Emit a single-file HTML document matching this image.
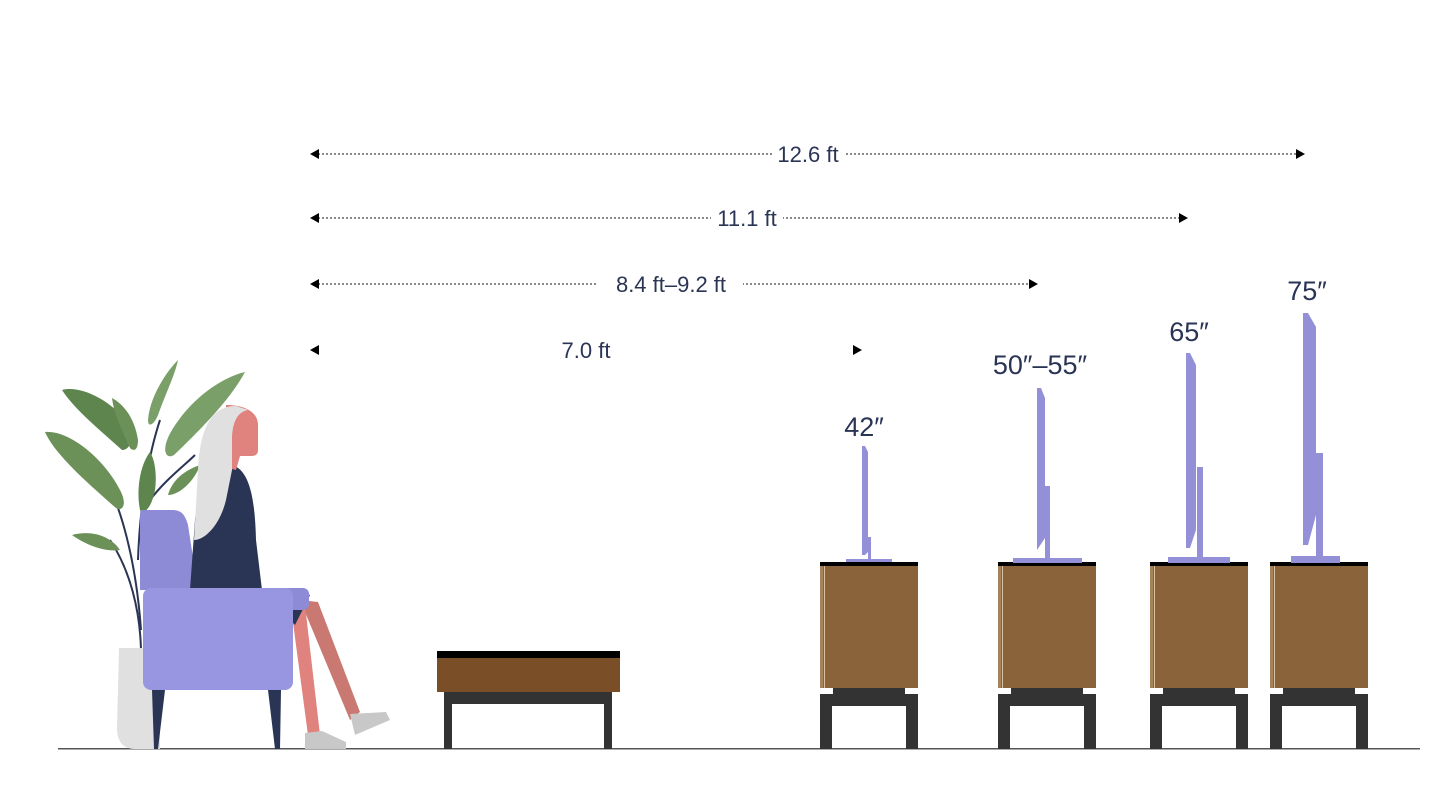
<!DOCTYPE html>
<html><head><meta charset="utf-8"><style>
html,body{margin:0;padding:0;background:#fff;width:1440px;height:810px;overflow:hidden}
svg{display:block}
text{font-family:"Liberation Sans",sans-serif;fill:#2a3454}
</style></head><body>
<svg width="1440" height="810" viewBox="0 0 1440 810" xmlns="http://www.w3.org/2000/svg">
<defs>
<g id="cab">
  <rect x="0" y="562" width="98" height="4" fill="#000"/>
  <rect x="0" y="566" width="98" height="122" fill="#8a633a"/>
  <rect x="4" y="566" width="1" height="122" fill="#d8c2a0"/>
  <rect x="0" y="566" width="3" height="122" fill="#b0936b" opacity="0.7"/>
  <rect x="13" y="688" width="72" height="6" fill="#333"/>
  <path d="M0 694H98V749H86V706H12V749H0Z" fill="#333"/>
</g>
</defs>
<g stroke="#111" stroke-width="1" stroke-dasharray="2,2">
  <line x1="318" y1="154" x2="1296" y2="154"/>
  <line x1="318" y1="218" x2="1180" y2="218"/>
  <line x1="318" y1="284" x2="1030" y2="284"/>
</g>
<g fill="#000">
  <path d="M310 154l9-5v10z"/><path d="M1305 154l-9-5v10z"/>
  <path d="M310 218l9-5v10z"/><path d="M1188 218l-9-5v10z"/>
  <path d="M310 284l9-5v10z"/><path d="M1038 284l-9-5v10z"/>
  <path d="M310 350l9-5v10z"/><path d="M862 350l-9-5v10z"/>
</g>
<rect x="772" y="140" width="74" height="28" fill="#fff"/>
<rect x="711" y="204" width="72" height="28" fill="#fff"/>
<rect x="597" y="270" width="146" height="28" fill="#fff"/>
<g font-size="22" text-anchor="middle">
  <text x="808" y="162">12.6 ft</text>
  <text x="747" y="226">11.1 ft</text>
  <text x="671" y="292">8.4 ft–9.2 ft</text>
  <text x="586" y="358">7.0 ft</text>
</g>
<g font-size="27" text-anchor="middle">
  <text x="864" y="436">42″</text>
  <text x="1040" y="374">50″–55″</text>
  <text x="1189" y="341">65″</text>
  <text x="1307" y="300">75″</text>
</g>
<rect x="58" y="748" width="1362" height="1.5" fill="#555"/>
<use href="#cab" transform="translate(820,0)"/>
<use href="#cab" transform="translate(998,0)"/>
<use href="#cab" transform="translate(1150,0)"/>
<use href="#cab" transform="translate(1270,0)"/>
<g fill="#9490d8">
  <path d="M862 446h3l3 6v100l-3 3h-3z"/><rect x="868" y="537" width="3" height="23"/><rect x="846" y="559" width="46" height="3"/>
  <path d="M1037 388h4l4 10v140l-8 12z"/><rect x="1045" y="486" width="5" height="72"/><rect x="1013" y="558" width="69" height="5"/>
  <path d="M1186 353h4l6 12v165l-6 18h-4z"/><rect x="1197" y="467" width="6" height="90"/><rect x="1168" y="557" width="62" height="6"/>
  <path d="M1303 313h5l8 14v188l-8 30h-5z"/><rect x="1316" y="453" width="7" height="103"/><rect x="1291" y="556" width="49" height="7"/>
</g>
<rect x="437" y="651" width="183" height="7" fill="#000"/>
<rect x="437" y="658" width="183" height="34" fill="#7a4f28"/>
<path d="M444 692H612V749H604V704H452V749H444Z" fill="#333"/>
<!-- plant -->
<g fill="none" stroke="#2a3454" stroke-width="2">
  <path d="M141 650C140 610 130 570 110 540"/>
  <path d="M141 630C136 560 120 500 100 470"/>
  <path d="M138 560C140 500 150 450 160 420"/>
  <path d="M150 500C165 480 185 465 195 455"/>
</g>
<g fill="#6b9158">
  <path d="M62 390C80 385 110 400 125 420C135 440 130 450 122 450C100 430 75 410 62 390Z" fill="#5f854f"/>
  <path d="M45 432C70 430 105 460 120 490C128 505 122 512 116 508C90 485 55 455 45 432Z"/>
  <path d="M112 398C125 405 135 420 138 440C138 450 134 452 130 448C122 430 114 415 112 398Z"/>
  <path d="M178 360C168 370 150 395 148 420C148 428 154 425 158 415C165 395 175 375 178 360Z" fill="#7a9f68"/>
  <path d="M245 372C220 378 190 400 172 430C160 450 166 460 174 455C200 430 230 400 245 372Z" fill="#7a9f68"/>
  <path d="M150 452C140 465 136 490 140 510C146 515 152 505 155 490C157 475 155 460 150 452Z" fill="#5f854f"/>
  <path d="M72 535C90 530 110 535 120 550C110 552 90 548 72 535Z"/>
  <path d="M200 465C185 470 172 480 168 495C180 495 195 480 200 465Z"/>
</g>
<path d="M119 648H160V749H135C122 749 117 740 117 728Z" fill="#e0e0e0"/>
<path d="M142 510H172C182 510 185 515 188 525L198 590H140V518C140 512 141 510 142 510Z" fill="#8d8bd5"/>
<path d="M232 465C250 470 255 500 256 540L262 590H190L195 520C198 490 210 468 232 465Z" fill="#2a3454"/>
<path d="M226 405C245 405 258 412 258 425L258 450C258 455 255 456 250 456H240L236 470L228 468Z" fill="#e0827e"/>
<path d="M236 406C210 406 200 430 198 470L194 540C205 540 220 525 226 500L232 470L232 440C232 425 236 412 248 410Z" fill="#e0e0e0"/>
<path d="M300 600L318 602L360 712L350 720Z" fill="#ca7872"/>
<path d="M290 600L305 605L320 735L308 735Z" fill="#e0827e"/>
<path d="M292 590L310 595L295 625L290 620Z" fill="#2a3454"/>
<path d="M350 714L386 712L390 720L355 735Z" fill="#c8c8c8"/>
<path d="M305 733L322 731L346 742V749H305Z" fill="#c8c8c8"/>
<rect x="270" y="588" width="39" height="22" rx="6" fill="#8d8bd5"/>
<rect x="143" y="588" width="150" height="102" rx="8" fill="#9896e0"/>
<path d="M152 690H165L158 749H154Z" fill="#2a3454"/>
<path d="M268 690H281L280 749H275Z" fill="#2a3454"/>
</svg>
</body></html>
